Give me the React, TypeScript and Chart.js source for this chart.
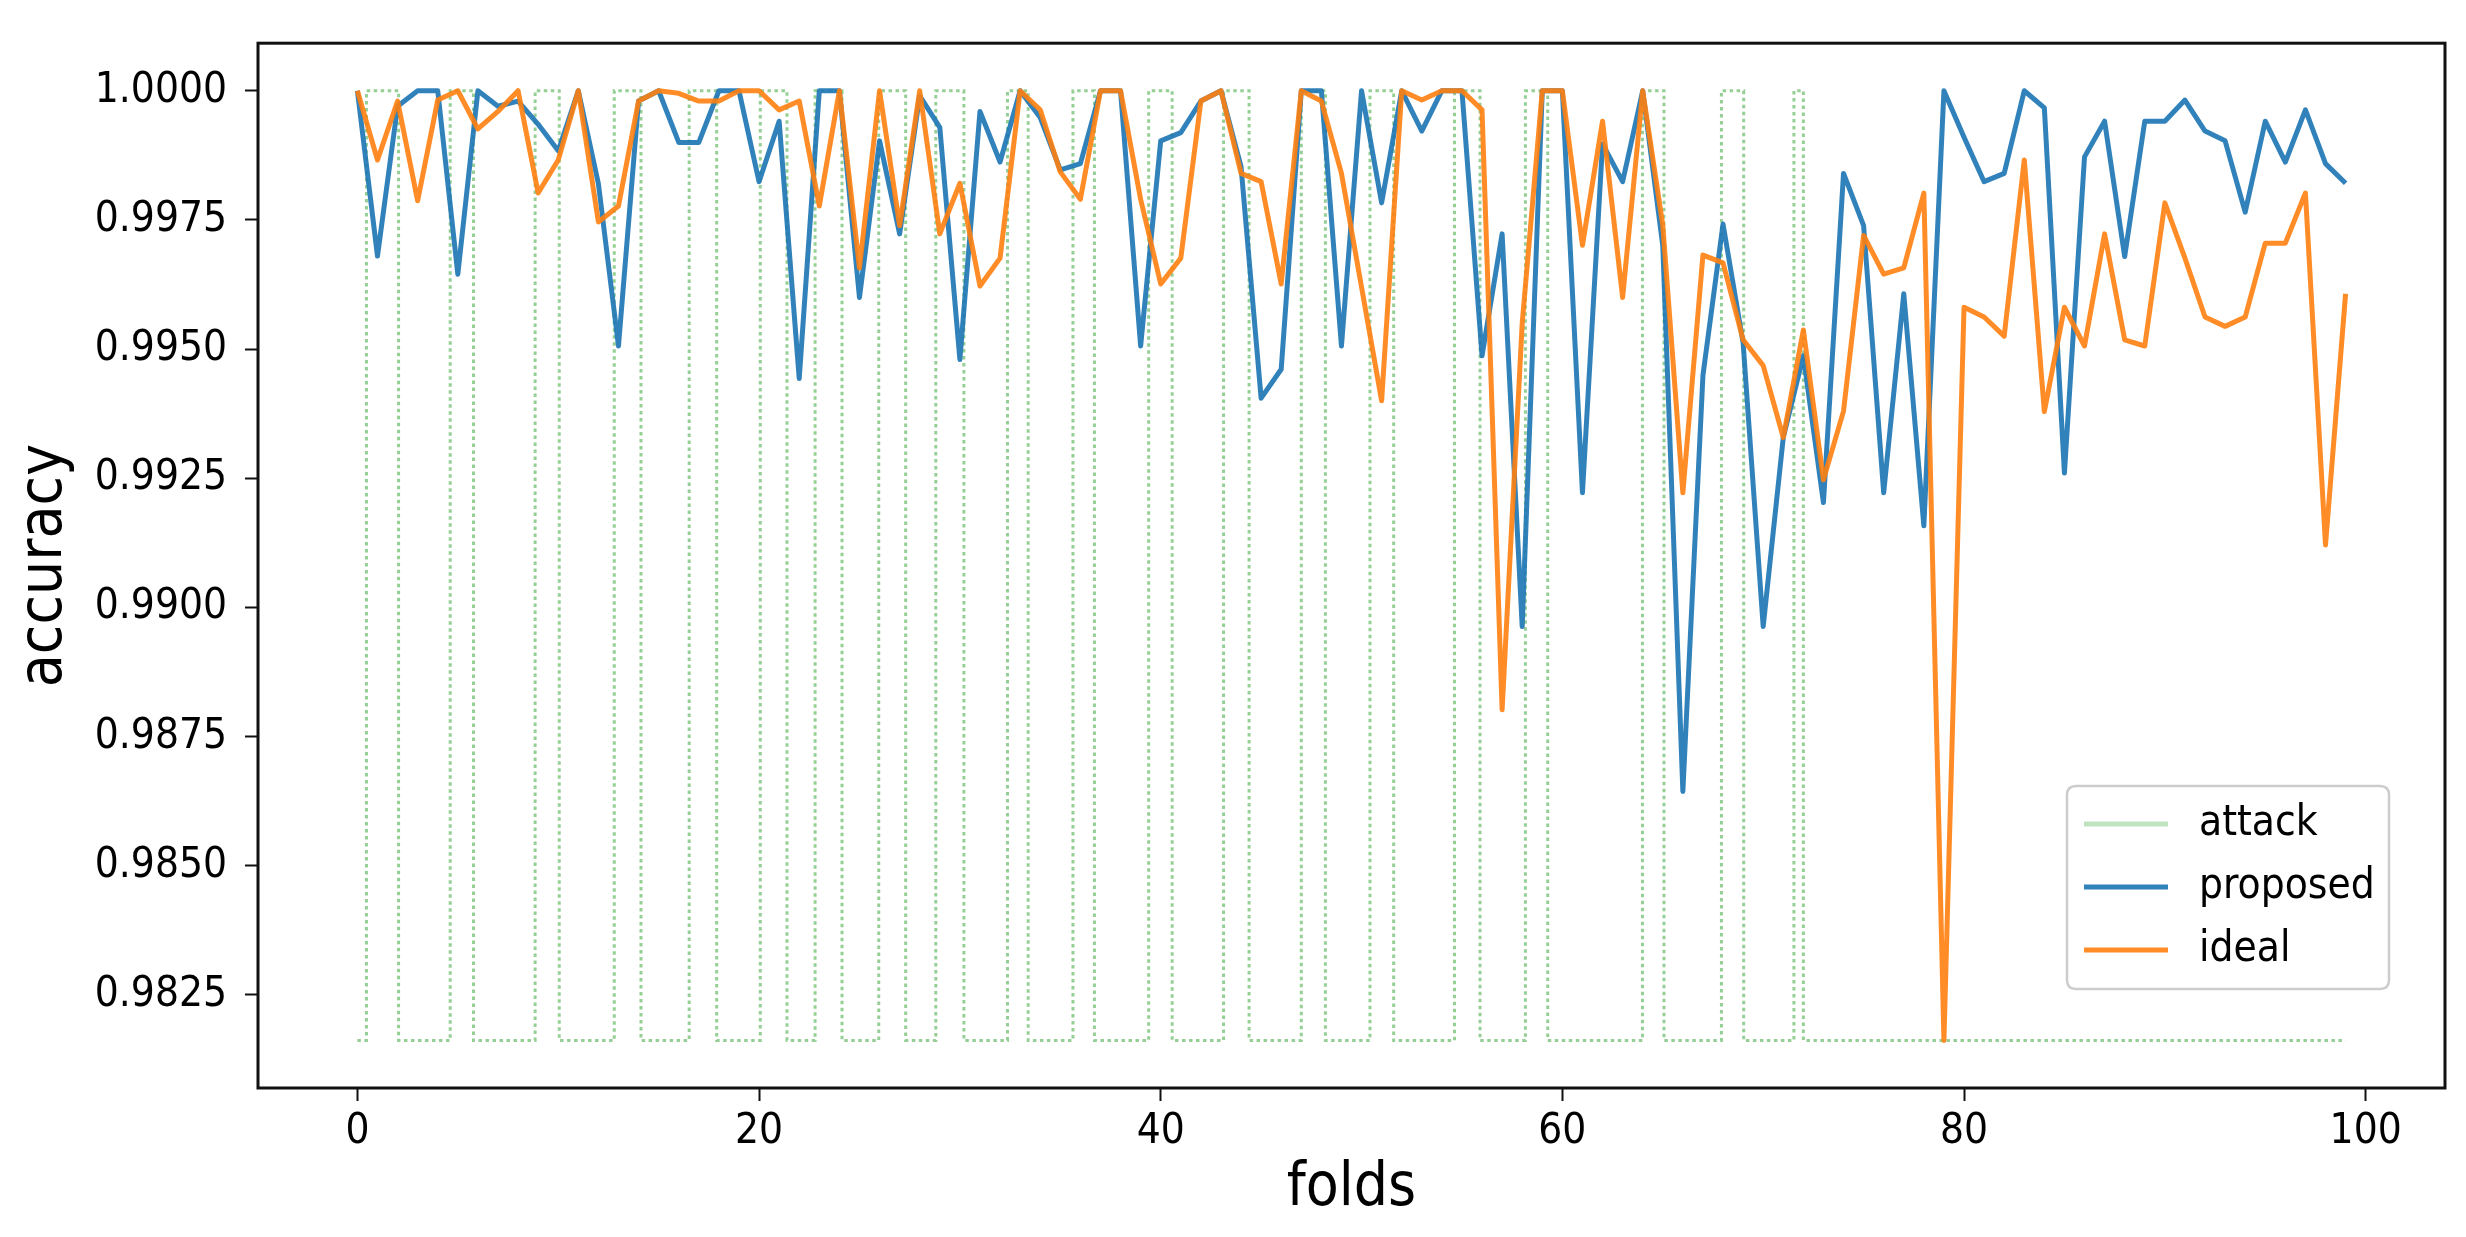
import React, { useEffect, useRef } from "react";
import { Chart, registerables } from "chart.js";

Chart.register(...registerables);

// ---------------- data ----------------
const FOLDS: number[] = Array.from({ length: 100 }, (_, i) => i);

const PROPOSED: number[] = [
  1.0, 0.9968, 0.9997, 1.0, 1.0, 0.99645, 1.0, 0.9997, 0.9998, 0.99935,
  0.99884, 1.0, 0.9982, 0.99506, 0.9998, 1.0, 0.999, 0.999, 1.0, 1.0,
  0.99824, 0.99941, 0.99443, 1.0, 1.0, 0.996, 0.99903, 0.99723, 0.9999, 0.99929,
  0.9948, 0.9996, 0.99862, 1.0, 0.99948, 0.99847, 0.99859, 1.0, 1.0, 0.99506,
  0.99903, 0.99919, 0.9998, 1.0, 0.99853, 0.99405, 0.99461, 1.0, 1.0, 0.99506,
  1.0, 0.99783, 1.0, 0.99922, 1.0, 1.0, 0.99487, 0.99723, 0.98963, 1.0,
  1.0, 0.99222, 0.99897, 0.99824, 1.0, 0.997, 0.98644, 0.99449, 0.99742, 0.99512,
  0.98963, 0.99329, 0.99487, 0.99203, 0.9984, 0.99739, 0.99222, 0.99607, 0.99158, 1.0,
  0.9991, 0.99824, 0.9984, 1.0, 0.99967, 0.9926, 0.99872, 0.99941, 0.99679, 0.99941,
  0.99941, 0.99982, 0.99922, 0.99903, 0.99765, 0.99941, 0.99862, 0.99963, 0.99859, 0.99821,
];

const IDEAL: number[] = [
  1.0, 0.99866, 0.9998, 0.99787, 0.99982, 1.0, 0.99926, 0.9996, 1.0, 0.99802,
  0.99866, 1.0, 0.99746, 0.99777, 0.9998, 1.0, 0.99995, 0.9998, 0.9998, 1.0,
  1.0, 0.99963, 0.9998, 0.99777, 1.0, 0.99657, 1.0, 0.99739, 1.0, 0.99723,
  0.99821, 0.99622, 0.99676, 1.0, 0.99963, 0.99843, 0.9979, 1.0, 1.0, 0.9979,
  0.99626, 0.99676, 0.9998, 1.0, 0.9984, 0.99824, 0.99626, 1.0, 0.9998, 0.9984,
  0.9962, 0.994, 1.0, 0.99982, 1.0, 1.0, 0.99963, 0.98802, 0.9955, 1.0,
  1.0, 0.99701, 0.99941, 0.996, 1.0, 0.9974, 0.99222, 0.99682, 0.99667, 0.99518,
  0.99468, 0.99329, 0.99537, 0.99247, 0.9938, 0.9972, 0.99645, 0.99657, 0.99802, 0.98162,
  0.99581, 0.99562, 0.99525, 0.99866, 0.99379, 0.99581, 0.99506, 0.99723, 0.99518, 0.99506,
  0.99783, 0.99676, 0.99562, 0.99544, 0.99562, 0.99705, 0.99705, 0.99802, 0.99121, 0.99607,
];

// attack indicator: level switches (x positions where it toggles low <-> high)
const ATTACK_LOW = 0.98162;
const ATTACK_HIGH = 1.0;
const ATTACK_START = 0;
const ATTACK_END = 99;
const ATTACK_SWITCHES: number[] = [
  0.45, 2.05, 4.62, 5.78, 8.85, 10.05, 12.79, 14.12, 16.52, 17.89,
  20.06, 21.39, 22.79, 24.13, 25.96, 27.3, 28.8, 30.2, 32.37, 33.4,
  35.63, 36.7, 39.4, 40.57, 43.13, 44.4, 47.0, 48.2, 50.42, 51.6,
  54.63, 55.9, 58.16, 59.27, 63.99, 65.06, 67.92, 69.03, 71.53, 72.0,
];

const X_TICKS: number[] = [0, 20, 40, 60, 80, 100];
const Y_TICKS: number[] = [0.9825, 0.985, 0.9875, 0.99, 0.9925, 0.995, 0.9975, 1.0];

const SERIES_NAMES = ["attack", "proposed", "ideal"];

// ---------------- styling ----------------
const W = 2466;
const H = 1237;
const FONT = "'DejaVu Sans Condensed', 'DejaVu Sans', 'Liberation Sans', sans-serif";
const BLUE = "rgba(31,119,180,0.92)";
const ORANGE = "rgba(255,127,14,0.9)";
const GREEN = "rgba(44,160,44,0.5)";

function buildAttack() {
  const pts: { x: number; y: number }[] = [];
  let level = ATTACK_LOW;
  pts.push({ x: ATTACK_START, y: level });
  for (const s of ATTACK_SWITCHES) {
    pts.push({ x: s, y: level });
    level = level === ATTACK_LOW ? ATTACK_HIGH : ATTACK_LOW;
    pts.push({ x: s, y: level });
  }
  pts.push({ x: ATTACK_END, y: level });
  return pts;
}

const framePlugin = {
  id: "frameAndLegend",
  afterDraw(chart: any) {
    const { ctx, chartArea: a } = chart;
    ctx.save();
    // spines
    ctx.strokeStyle = "#111";
    ctx.lineWidth = 3;
    ctx.strokeRect(a.left, a.top, a.right - a.left, a.bottom - a.top);

    // legend box
    const bw = 322;
    const bh = 203;
    const bx = a.right - 56 - bw;
    const by = a.bottom - 99 - bh;
    const r = 9;
    ctx.beginPath();
    ctx.moveTo(bx + r, by);
    ctx.lineTo(bx + bw - r, by);
    ctx.quadraticCurveTo(bx + bw, by, bx + bw, by + r);
    ctx.lineTo(bx + bw, by + bh - r);
    ctx.quadraticCurveTo(bx + bw, by + bh, bx + bw - r, by + bh);
    ctx.lineTo(bx + r, by + bh);
    ctx.quadraticCurveTo(bx, by + bh, bx, by + bh - r);
    ctx.lineTo(bx, by + r);
    ctx.quadraticCurveTo(bx, by, bx + r, by);
    ctx.closePath();
    ctx.fillStyle = "rgba(255,255,255,0.8)";
    ctx.fill();
    ctx.strokeStyle = "rgb(204,204,204)";
    ctx.lineWidth = 2.5;
    ctx.stroke();

    const colors = ["rgba(44,160,44,0.3)", BLUE, ORANGE];
    const rowY = [by + 38, by + 101, by + 164];
    ctx.font = `42px ${FONT}`;
    ctx.textBaseline = "middle";
    ctx.textAlign = "left";
    for (let i = 0; i < 3; i++) {
      ctx.beginPath();
      ctx.strokeStyle = colors[i];
      ctx.lineWidth = 5;
      ctx.moveTo(bx + 17, rowY[i]);
      ctx.lineTo(bx + 101, rowY[i]);
      ctx.stroke();
      ctx.fillStyle = "#000";
      ctx.fillText(SERIES_NAMES[i], bx + 132, rowY[i]);
    }
    ctx.restore();
  },
};

export default function App() {
  const ref = useRef<HTMLCanvasElement | null>(null);

  useEffect(() => {
    document.body.style.margin = "0";
    const canvas = ref.current;
    if (!canvas) return;
    const chart = new Chart(canvas, {
      type: "line",
      data: {
        datasets: [
          {
            label: SERIES_NAMES[0],
            data: buildAttack(),
            borderColor: GREEN,
            borderWidth: 3,
            borderDash: [3.5, 3.5],
            pointRadius: 0,
            tension: 0,
            fill: false,
            order: 3,
          },
          {
            label: SERIES_NAMES[1],
            data: FOLDS.map((f, i) => ({ x: f, y: PROPOSED[i] })),
            borderColor: BLUE,
            borderWidth: 5,
            borderJoinStyle: "round",
            pointRadius: 0,
            tension: 0,
            fill: false,
            order: 2,
          },
          {
            label: SERIES_NAMES[2],
            data: FOLDS.map((f, i) => ({ x: f, y: IDEAL[i] })),
            borderColor: ORANGE,
            borderWidth: 5,
            borderJoinStyle: "round",
            pointRadius: 0,
            tension: 0,
            fill: false,
            order: 1,
          },
        ],
      },
      options: {
        animation: false,
        responsive: false,
        devicePixelRatio: 1,
        events: [],
        layout: { padding: { left: 9, right: 21, top: 22, bottom: 12 } },
        plugins: {
          legend: { display: false },
          tooltip: { enabled: false },
        },
        scales: {
          x: {
            type: "linear",
            min: -4.95,
            max: 103.95,
            afterBuildTicks: (scale: any) => {
              scale.ticks = X_TICKS.map((v) => ({ value: v }));
            },
            afterFit: (scale: any) => {
              scale.height = 137;
            },
            ticks: {
              autoSkip: false,
              maxRotation: 0,
              color: "#000",
              padding: 6,
              font: { family: FONT, size: 42 },
              callback: (v: any) => String(v),
            },
            grid: {
              drawOnChartArea: false,
              drawTicks: true,
              tickLength: 13,
              tickWidth: 2,
              tickColor: "#111",
            },
            border: { display: false },
            title: {
              display: true,
              text: "folds",
              color: "#000",
              padding: 0,
              font: { family: FONT, size: 60 },
            },
          },
          y: {
            type: "linear",
            min: 0.9807,
            max: 1.00092,
            afterBuildTicks: (scale: any) => {
              scale.ticks = Y_TICKS.map((v) => ({ value: v }));
            },
            afterFit: (scale: any) => {
              scale.width = 249;
            },
            ticks: {
              autoSkip: false,
              color: "#000",
              padding: 18,
              font: { family: FONT, size: 42 },
              callback: (v: any) => Number(v).toFixed(4),
            },
            grid: {
              drawOnChartArea: false,
              drawTicks: true,
              tickLength: 13,
              tickWidth: 2,
              tickColor: "#111",
            },
            border: { display: false },
            title: {
              display: true,
              text: "accuracy",
              color: "#000",
              padding: 0,
              font: { family: FONT, size: 60 },
            },
          },
        },
      },
      plugins: [framePlugin],
    } as any);
    return () => chart.destroy();
  }, []);

  return (
    <div style={{ position: "absolute", left: 0, top: 0, width: W, height: H, background: "#fff" }}>
      <canvas ref={ref} width={W} height={H} style={{ display: "block", width: W, height: H }} />
    </div>
  );
}
